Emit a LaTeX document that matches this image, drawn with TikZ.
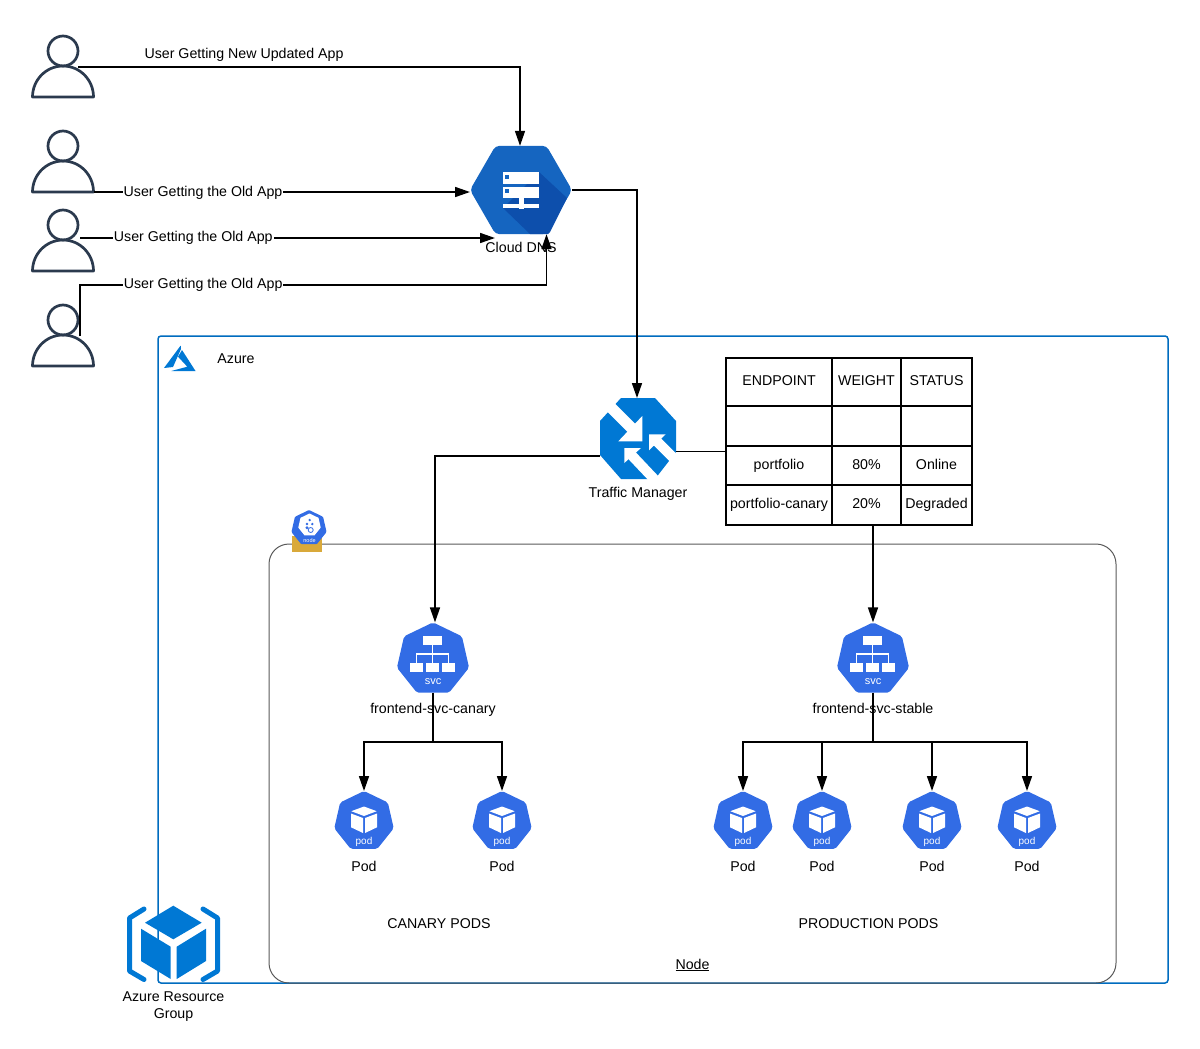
\documentclass[tikz,border=0pt]{standalone}
\usepackage{fontspec}
\setmainfont{Liberation Sans}
\usetikzlibrary{shapes.geometric}
\usetikzlibrary{arrows.meta}
\usetikzlibrary{positioning}

\definecolor{kube}{HTML}{326CE5}
\definecolor{azureblue}{HTML}{0078D4}
\definecolor{dnsblue}{HTML}{1565C0}
\definecolor{dnsdark}{HTML}{0D4FAC}
\definecolor{usercol}{HTML}{2B3A4E}
\definecolor{nodegold}{HTML}{D9A93A}

\tikzstyle{every node}=[font=\fontsize{14.2}{17}\selectfont, outer sep=0pt]
\tikzstyle{arrow} = [line width=1.6pt,->,>={Stealth[length=15pt,width=10pt,inset=0pt]}]
\tikzstyle{thinline} = [line width=1.1pt]
\tikzstyle{user} = [rectangle, minimum width=62pt, minimum height=62pt, inner sep=0pt]
\tikzstyle{dnshex} = [regular polygon, regular polygon sides=6, minimum size=102pt, inner sep=0pt, fill=dnsblue, rounded corners=4pt]
\tikzstyle{tmbox} = [rectangle, minimum width=76pt, minimum height=81pt, inner sep=0pt]
\tikzstyle{svc} = [regular polygon, regular polygon sides=7, minimum size=74pt, inner sep=0pt, fill=kube, rounded corners=2pt]
\tikzstyle{pod} = [regular polygon, regular polygon sides=7, minimum size=61pt, inner sep=0pt, fill=kube, rounded corners=2pt]
\tikzstyle{cell} = [rectangle, draw=black, line width=1.3pt, inner sep=0pt, text centered, text height=10pt, text depth=3pt]
\tikzstyle{whitelabel} = [fill=white, inner sep=1pt]
\tikzstyle{tmarrow} = [line width=10pt, draw=white]

% user figure
\newcommand{\userfig}[2]{
\node (#1) [user] at (63,#2) {};
\begin{scope}[shift={(0,#2)}, draw=usercol, line width=2.7pt, line join=round]
\draw (32.5,30) .. controls (32.5,13) and (46,-1) .. (63,-1) .. controls (80,-1) and (93.5,13) .. (93.5,30) -- cycle;
\draw (63,-16) circle (15);
\end{scope}
}
% service icon
\newcommand{\svcfig}[3]{
\node (#1) [svc] at (#2,659.4) {};
\node (#1-tag) at (#2,682) [text=white, font=\fontsize{11}{12}\selectfont, inner sep=0pt] {svc};
\node (#1-label) [below=7pt of #1] {#3};
\begin{scope}[shift={(#2,659.4)}]
\fill[white] (-10.3,-23) rectangle (9.3,-14);
\fill[white] (-23,3.9) rectangle (-10.3,12.9);
\fill[white] (-7,3.9) rectangle (6,12.9);
\fill[white] (9.3,3.9) rectangle (22.3,12.9);
\draw[white, line width=1.2pt] (-0.5,-14) -- (-0.5,3.9) (-16.5,3.9) -- (-16.5,-5.5) -- (15.8,-5.5) -- (15.8,3.9);
\end{scope}
}
% pod icon
\newcommand{\podfig}[2]{
\node (#1) [pod] at (#2,821.5) {};
\node (#1-tag) at (#2,842) [text=white, font=\fontsize{10}{11}\selectfont, inner sep=0pt] {pod};
\node (#1-label) [below=9pt of #1] {Pod};
\begin{scope}[shift={(#2,821.5)}]
\fill[white] (0,-15) -- (12.7,-10.3) -- (0,-5.5) -- (-12.7,-10.3) -- cycle;
\fill[white] (-13,-8) -- (-1,-3.5) -- (-1,11.5) -- (-13,5.8) -- cycle;
\fill[white] (13,-8) -- (1,-3.5) -- (1,11.5) -- (13,5.8) -- cycle;
\end{scope}
}

\begin{document}
\begin{tikzpicture}[x=1pt, y=-1pt]
\useasboundingbox (0,0) rectangle (1200,1049);

% containers
\node (azure) [rectangle, draw=azureblue!90!black, line width=1.5pt, rounded corners=3pt, minimum width=1010pt, minimum height=647pt, inner sep=0pt] at (663,659.5) {};
\node (azure-label) at (236,359) {Azure};
\fill[azureblue] (180.7,345.5) -- (164,368) -- (173,367) -- (181,349) -- cycle;
\fill[azureblue] (182,350) -- (195.5,371) -- (171.3,371) -- (187.3,366.7) -- (178,356.7) -- cycle;

\node (nodebox) [rectangle, draw=black!65, line width=1pt, rounded corners=20pt, minimum width=847pt, minimum height=439pt, inner sep=0pt] at (692.5,763.5) {};
\node (nodebox-label) at (692.5,965) {\underline{Node}};
\fill[nodegold] (292,536) rectangle (322,552);

% small node icon
\node (nodeicon) [regular polygon, regular polygon sides=7, minimum size=36pt, inner sep=0pt, fill=kube, rounded corners=1pt] at (309,528) {};
\node (nodeicon-inner) [regular polygon, regular polygon sides=7, minimum size=23pt, inner sep=0pt, fill=white] at (309.5,525) {};
\node (nodeicon-tag) at (309.5,540.7) [text=white, font=\fontsize{5.5}{6}\selectfont, inner sep=0pt] {node};
\fill[kube] (309.7,520) circle (1.3) (307,524) circle (1.3) (312.3,524) circle (1.3) (307,527.7) circle (1.6);
\draw[kube, line width=0.8pt] (310.7,530) circle (2.5);

% users
\userfig{userA}{67}
\userfig{userB}{162}
\userfig{userC}{241}
\userfig{userD}{336}

% dns
\node (dns) [dnshex] at (521,190) {};
\fill[dnsdark] (539,172) -- (567,198) -- (550,232) -- (548,234) -- (530,234) -- (503,208) -- cycle;
\fill[white] (503,172) rectangle (539,184);
\fill[white] (503,187) rectangle (539,198);
\fill[white] (503,204) rectangle (539,208);
\fill[white] (518.5,198) rectangle (523.5,209);
\fill[dnsblue] (505,175) rectangle (509,179);
\fill[dnsblue] (505,189) rectangle (509,193);
\node (dns-label) [below=5pt of dns] {Cloud DNS};

% traffic manager
\node (tm) [tmbox] at (638,438.5) {};
\fill[azureblue] (621,398) -- (655,398) -- (676,421) -- (676,452) -- (655,479) -- (621,479) -- (600,455) -- (600,421) -- cycle;
\draw[tmarrow, line width=11pt] (606,402.5) -- (634,430.5);
\fill[white] (642.3,416) -- (642.3,441.3) -- (618.3,441.3) -- cycle;
\draw[tmarrow] (657,441.5) -- (680,464.5);
\fill[white] (649,434.3) -- (665.7,434.3) -- (649,450.3) -- cycle;
\draw[tmarrow] (631.7,455.3) -- (656,481);
\fill[white] (624.3,448) -- (641,448) -- (624.3,463) -- cycle;
\node (tm-label) [below=4.5pt of tm] {Traffic Manager};

% table
\node (endpoint) [cell, minimum width=106pt, minimum height=48pt] at (779,382) {ENDPOINT};
\node (weight) [cell, minimum width=69pt, minimum height=48pt, right=0pt of endpoint] {WEIGHT};
\node (status) [cell, minimum width=71pt, minimum height=48pt, right=0pt of weight] {STATUS};
\node (emptyA) [cell, minimum width=106pt, minimum height=40pt, below=0pt of endpoint] {};
\node (emptyB) [cell, minimum width=69pt, minimum height=40pt, below=0pt of weight] {};
\node (emptyC) [cell, minimum width=71pt, minimum height=40pt, below=0pt of status] {};
\node (portfolio) [cell, minimum width=106pt, minimum height=39pt, below=0pt of emptyA] {portfolio};
\node (eighty) [cell, minimum width=69pt, minimum height=39pt, below=0pt of emptyB] {80\%};
\node (online) [cell, minimum width=71pt, minimum height=39pt, below=0pt of emptyC] {Online};
\node (canary) [cell, minimum width=106pt, minimum height=40pt, below=0pt of portfolio] {portfolio-canary};
\node (twenty) [cell, minimum width=69pt, minimum height=40pt, below=0pt of eighty] {20\%};
\node (degraded) [cell, minimum width=71pt, minimum height=40pt, below=0pt of online] {Degraded};

% services and pods
\svcfig{svcCanary}{433}{frontend-svc-canary}
\svcfig{svcStable}{873}{frontend-svc-stable}
\foreach \name/\xpos in {podA/364, podB/502, podC/743, podD/822, podE/932, podF/1027}
  \podfig{\name}{\xpos};

\node (canary-pods) at (439,923.5) {CANARY PODS};
\node (prod-pods) at (868.5,923.5) {PRODUCTION PODS};

% resource group
\coordinate (rg) at (173.5,983);
\fill[azureblue] (173.3,905.7) -- (201.7,922.7) -- (173.3,939.3) -- (145,922.7) -- cycle;
\fill[azureblue] (141,928.7) -- (170.7,946.7) -- (170.7,979) -- (141,961) -- cycle;
\fill[azureblue] (206,928.7) -- (176.7,946.7) -- (176.7,979) -- (206,961) -- cycle;
\draw[azureblue, line width=5pt, line cap=round, line join=round] (144,909) -- (129.5,918) -- (129.5,971) -- (144,979.5);
\draw[azureblue, line width=5pt, line cap=round, line join=round] (203,909) -- (217.5,918) -- (217.5,971) -- (203,979.5);
\node (rg-label) [align=center, below=5pt of rg] {Azure Resource\\Group};

% connectors
\node (new-label) at (244,55) {User Getting New Updated App};
\draw [arrow]([xshift=-16pt]userA.east) -| ([xshift=-1pt]dns.north);
\draw [arrow]([yshift=1pt]userB.south east) -- node[whitelabel, pos=0.29, yshift=-1pt](old-b){User Getting the Old App}([yshift=1pt]userB.south east -| dns.west);
\coordinate (tipC) at (495,238);
\draw [arrow]([xshift=-14pt,yshift=3pt]userC.east) -- node[whitelabel, pos=0.273](old-c){User Getting the Old App}(tipC);
\draw [arrow]([xshift=-14pt]userD.east) -- ++(0,-51) -| node[whitelabel, pos=0.132](old-d){User Getting the Old App}([xshift=25.5pt]dns.south);
\draw [arrow](dns.east) -| ([xshift=-1pt]tm.north);
\draw [arrow](tm.205) -| ([xshift=2pt]svcCanary.north);
\draw [thinline](tm.-19.6) -- (tm.-19.6 -| portfolio.west);
\draw [arrow](svcStable.north |- twenty.south) -- (svcStable.north);

\coordinate (splitCanary) at (433,742);
\coordinate (splitStable) at (873,742);
\draw [thinline](svcCanary.south) -- (splitCanary);
\draw [thinline](svcStable.south) -- (splitStable);
\draw [arrow](splitCanary) -| (podA.north);
\draw [arrow](splitCanary) -| (podB.north);
\draw [arrow](splitStable) -| (podC.north);
\draw [arrow](splitStable) -| (podD.north);
\draw [arrow](splitStable) -| (podE.north);
\draw [arrow](splitStable) -| (podF.north);

\end{tikzpicture}
\end{document}
